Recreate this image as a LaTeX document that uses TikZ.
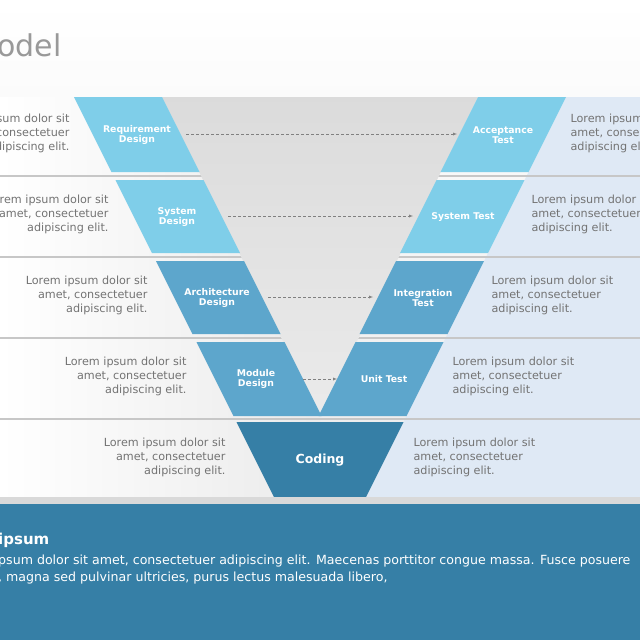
\documentclass[tikz,border=0pt]{standalone}
\usepackage{fontspec}
\setmainfont{DejaVu Sans}
\begin{document}
\begin{tikzpicture}[x=1pt,y=-1pt,
  lbl/.style={text=white,font=\bfseries\fontsize{9.3}{10.5}\selectfont,align=center},
  side/.style={text=black!55,font=\fontsize{11.2}{14}\selectfont},
  arr/.style={densely dashed,draw=black!50,-latex},
  sep/.style={draw=black!22,line width=1.2pt}]
\definecolor{cA}{HTML}{7FCEE9}
\definecolor{cB}{HTML}{5DA6CC}
\definecolor{cC}{HTML}{367FA6}
\definecolor{lb}{HTML}{DFE9F5}
\useasboundingbox (0,0) rectangle (640,640);
\clip (0,0) rectangle (640,640);
\shade[top color=white,bottom color=black!8] (0,0) rectangle (640,497);
\shade[left color=white,right color=black!8] (0,97) rectangle (320,497);
\fill[lb] (366,497) -- (566,97) -- (640,97) -- (640,497) -- cycle;
\foreach \y in {176,257,338,419} \draw[sep] (0,\y) -- (640,\y);
\shade[top color=black!14,bottom color=black!8] (162,97) -- (478,97) -- (320,416) -- cycle;
\def\L#1#2#3{\fill[#1] ({74+.5*(#2-97)},#2) -- ({162+.5*(#2-97)},#2) -- ({162+.5*(#3-97)},#3) -- ({74+.5*(#3-97)},#3) -- cycle;}
\def\R#1#2#3{\fill[#1] ({566-.5*(#2-97)},#2) -- ({478-.5*(#2-97)},#2) -- ({478-.5*(#3-97)},#3) -- ({566-.5*(#3-97)},#3) -- cycle;}
\L{cA}{97}{172}
\L{cA}{180}{253}
\L{cB}{261}{334}
\L{cB}{342}{416}
\R{cA}{97}{172}
\R{cA}{180}{253}
\R{cB}{261}{334}
\R{cB}{342}{416}
\fill[cC] (236.5,422) -- (403.5,422) -- (366,497) -- (274,497) -- cycle;
\node[lbl] (rd) at (137,135) {Requirement\\Design};
\node[lbl] (sd) at (177,217) {System\\Design};
\node[lbl] (ad) at (217,298) {Architecture\\Design};
\node[lbl] (md) at (256,379) {Module\\Design};
\node[lbl] (at) at (503,135) {Acceptance\\Test};
\node[lbl] (st) at (463,217) {System Test};
\node[lbl] (it) at (423,298) {Integration\\Test};
\node[lbl] (ut) at (384,379) {Unit Test};
\node[lbl,font=\bfseries\fontsize{12.5}{14}\selectfont] (cd) at (320,460) {Coding};
\coordinate (a1) at (186,134); \coordinate (b1) at (457,134);
\coordinate (a2) at (228,216); \coordinate (b2) at (413,216);
\coordinate (a3) at (268,297); \coordinate (b3) at (373,297);
\coordinate (a4) at (303,379); \coordinate (b4) at (337,379);
\foreach \i in {1,2,3,4} \draw[arr] (a\i) -- (b\i);
\foreach \x/\y/\n in {73/133/l1,112/214/l2,151/295/l3,190/376/l4,229/457/l5}
  \node[side,anchor=east,align=right] (\n) at (\x,\y) {Lorem ipsum dolor sit\\amet, consectetuer\\adipiscing elit.};
\foreach \x/\y/\n in {567/133/r1,528/214/r2,488/295/r3,449/376/r4,410/457/r5}
  \node[side,anchor=west,align=left] (\n) at (\x,\y) {Lorem ipsum dolor sit\\amet, consectetuer\\adipiscing elit.};
\node[anchor=west,text=black!40,font=\fontsize{30}{32}\selectfont,inner sep=0] (ti) at (-3,45) {odel};
\fill[black!15] (0,497) rectangle (640,504);
\fill[cC] (0,504) rectangle (640,640);
\node[anchor=west,text=white,font=\bfseries\fontsize{15}{17}\selectfont,inner sep=0] (bt) at (-2,540) {ipsum};
\node[anchor=north west,text=white,align=left,font=\fontsize{12.6}{17}\selectfont,inner sep=0] (bx) at (-2,555)
 {psum dolor sit amet, consectetuer adipiscing elit. Maecenas porttitor congue massa. Fusce posuere\\, magna sed pulvinar ultricies, purus lectus malesuada libero,};
\end{tikzpicture}
\end{document}
